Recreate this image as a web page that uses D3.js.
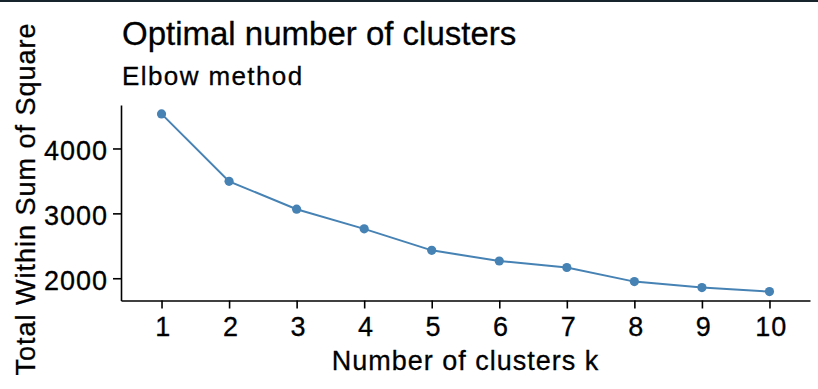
<!DOCTYPE html>
<meta charset="utf-8">
<style>
body { margin: 0; background: #fff; }
svg { display: block; font-family: "Liberation Sans", Arial, sans-serif; }
.axis path, .axis line { stroke: #000; stroke-width: 1.6px; }
.axis text { font-size: 27px; fill: #000; letter-spacing: 1px; stroke: #000; stroke-width: 0.3px; }
.title { font-size: 33px; stroke: #000; stroke-width: 0.3px; }
.subtitle { font-size: 26px; letter-spacing: 1.4px; stroke: #000; stroke-width: 0.3px; }
.axis-title { font-size: 27px; letter-spacing: 1px; stroke: #000; stroke-width: 0.3px; }
</style>
<body>
<svg id="chart" width="818" height="389"></svg>
<script src="https://cdn.jsdelivr.net/npm/d3@7"></script>
<script>

// data
var clusters = [1, 2, 3, 4, 5, 6, 7, 8, 9, 10];
var wss = [4533, 3493, 3064, 2761, 2430, 2266, 2166, 1948, 1856, 1794];
var yTicks = [2000, 3000, 4000];

var svg = d3.select("#chart");

// thin dark strip at the top edge
svg.append("rect")
    .attr("x", 0).attr("y", 0)
    .attr("width", 818).attr("height", 2)
    .attr("fill", "#17242b");

var mLeft = 121, mRight = 810, mTop = 105, mBottom = 300.5;

var x = d3.scalePoint()
    .domain(clusters)
    .range([mLeft, mRight])
    .padding(0.6);

var lo = d3.min(wss), hi = d3.max(wss), pad = (hi - lo) * 0.05;
var y = d3.scaleLinear()
    .domain([lo - pad, hi + pad])
    .range([mBottom, mTop]);

// axes
var xAxis = svg.append("g")
    .attr("class", "axis")
    .attr("transform", "translate(0," + mBottom + ")")
    .call(d3.axisBottom(x).tickSizeOuter(0).tickSizeInner(8).tickPadding(8));
xAxis.selectAll("text").attr("dy", "0.71em").attr("dx", "0.05em");

var yAxis = svg.append("g")
    .attr("class", "axis")
    .attr("transform", "translate(" + mLeft + ",0)")
    .call(d3.axisLeft(y).tickValues(yTicks).tickFormat(d3.format("d"))
        .tickSizeOuter(0).tickSizeInner(8).tickPadding(5));
yAxis.selectAll("text").attr("dy", "0.42em");

// line + points
svg.append("path")
    .datum(wss)
    .attr("fill", "none")
    .attr("stroke", "steelblue")
    .attr("stroke-width", 2)
    .attr("d", d3.line()
        .x(function(d, i) { return x(clusters[i]); })
        .y(function(d) { return y(d); }));

svg.selectAll(".pt")
    .data(wss)
  .enter().append("circle")
    .attr("class", "pt")
    .attr("cx", function(d, i) { return x(clusters[i]); })
    .attr("cy", function(d) { return y(d); })
    .attr("r", 4.6)
    .attr("fill", "steelblue");

// titles
svg.append("text")
    .attr("class", "title")
    .attr("x", mLeft + 1).attr("y", 44.5)
    .text("Optimal number of clusters");

svg.append("text")
    .attr("class", "subtitle")
    .attr("x", mLeft + 1).attr("y", 85)
    .text("Elbow method");

svg.append("text")
    .attr("class", "axis-title")
    .attr("x", (mLeft + mRight) / 2).attr("y", 370)
    .attr("text-anchor", "middle")
    .text("Number of clusters k");

svg.append("text")
    .attr("class", "axis-title")
    .attr("transform", "translate(35," + 199 + ") rotate(-90)")
    .attr("text-anchor", "middle")
    .text("Total Within Sum of Square");

</script>
</body>
